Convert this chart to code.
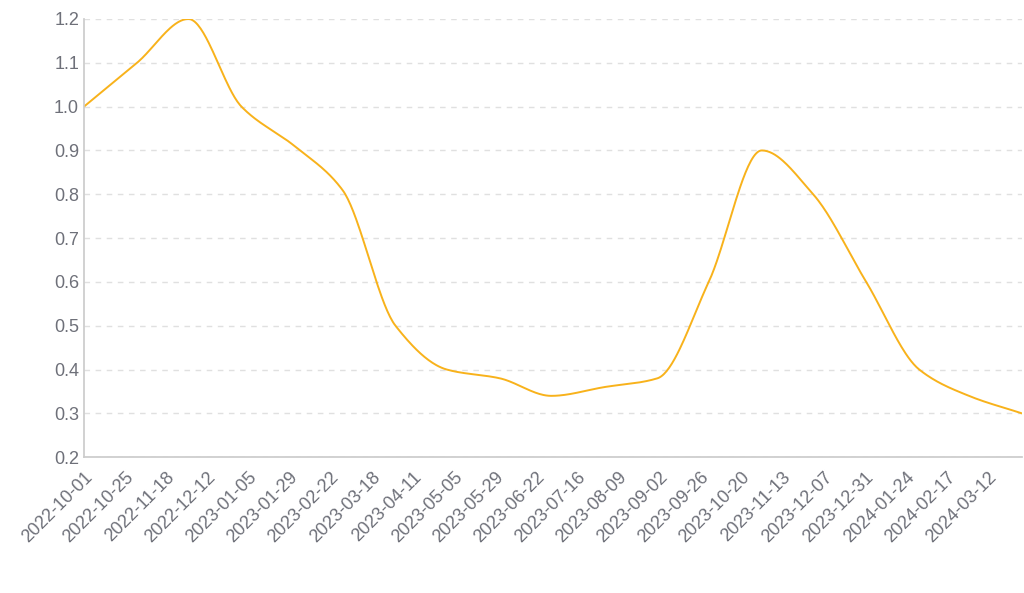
import numpy as np, pandas as pd, seaborn as sns, matplotlib
matplotlib.use("Agg")
import matplotlib.pyplot as plt

dates = pd.date_range("2022-10-01", "2024-04-01", freq="MS")
values = [1.0, 1.1, 1.2, 1.0, 0.91, 0.81, 0.5, 0.4, 0.38, 0.34, 0.36, 0.38,
          0.6, 0.9, 0.8, 0.6, 0.4, 0.34, 0.30]

sns.set_theme(style="white")
plt.rcParams['font.family'] = ['Liberation Sans', 'DejaVu Sans']

t = np.array([(d - dates[0]).days for d in dates], float)
v = np.array(values, float)
# monotone cubic (Fritsch-Carlson) smoothing for display
h = np.diff(t); dlt = np.diff(v) / h
m = np.zeros_like(v); m[0], m[-1] = dlt[0], dlt[-1]
for i in range(1, len(v) - 1):
    if dlt[i-1] * dlt[i] > 0:
        w1 = 2*h[i] + h[i-1]; w2 = h[i] + 2*h[i-1]
        m[i] = (w1 + w2) / (w1/dlt[i-1] + w2/dlt[i])
xs, ys = [], []
for i in range(len(v) - 1):
    s = np.linspace(0, 1, 40)
    h00 = 2*s**3 - 3*s**2 + 1; h10 = s**3 - 2*s**2 + s
    h01 = -2*s**3 + 3*s**2; h11 = s**3 - s**2
    xs.append(t[i] + s*h[i])
    ys.append(h00*v[i] + h10*h[i]*m[i] + h01*v[i+1] + h11*h[i]*m[i+1])
xs = np.concatenate(xs); ys = np.concatenate(ys)
df = pd.DataFrame({"x": xs, "y": ys})

fig, ax = plt.subplots(figsize=(10.24, 5.93), dpi=100)
fig.subplots_adjust(left=0.082, right=0.998, top=0.968, bottom=0.229)
sns.lineplot(data=df, x="x", y="y", ax=ax, color="#f8b21b", linewidth=1.4, sort=False)
ax.set_xlim(0, t[-1])
ax.set_ylim(0.2, 1.2)
ax.set_yticks(np.arange(0.2, 1.21, 0.1))
ax.set_yticklabels([f"{y:.1f}" for y in np.arange(0.2, 1.21, 0.1)], fontsize=13, color="#6e7079")
tk = np.arange(0, t[-1], 24)
ax.set_xticks(tk)
ax.set_xticklabels([(dates[0] + pd.Timedelta(days=int(d))).strftime("%Y-%m-%d") for d in tk],
                   rotation=45, ha="right", rotation_mode="anchor", fontsize=13, color="#6e7079")
ax.grid(axis="y", linestyle=(0, (4, 4)), color="#e0e0e0")
ax.set_xlabel(""); ax.set_ylabel("")
for s in ["top", "right"]:
    ax.spines[s].set_visible(False)
ax.spines["left"].set_color("#cccccc"); ax.spines["bottom"].set_color("#cccccc")
ax.tick_params(axis="x", length=5, color="#cccccc")
ax.tick_params(axis="y", length=0)
fig.savefig("out.png")
